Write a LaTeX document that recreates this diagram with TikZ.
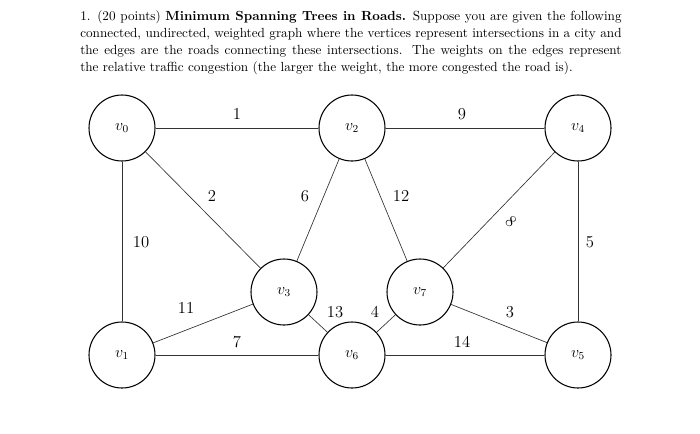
\documentclass[tikz,border=0pt]{standalone}
\begin{document}
\begin{tikzpicture}[x=0.75pt,y=-0.75pt,
  vtx/.style={draw,circle,line width=0.8pt,minimum size=49.5pt,inner sep=0pt,font=\fontsize{12}{14}\selectfont},
  edge/.style={line width=0.5pt,draw=black!80},
  wl/.style={font=\fontsize{12.5}{14}\selectfont}]
\useasboundingbox (0,0) rectangle (700,433);
\node[anchor=north west,inner sep=0pt] (txt) at (80,10) {\parbox{406pt}{\fontsize{9.9}{12.75}\selectfont
1. (20 points) \textbf{Minimum Spanning Trees in Roads.} Suppose you are given the following\linebreak
connected, undirected, weighted graph where the vertices represent intersections in a city and\linebreak
the edges are the roads connecting these intersections. The weights on the edges represent\linebreak
the relative traffic congestion (the larger the weight, the more congested the road is).}};
\node[vtx] (v0) at (122,128) {$v_0$};
\node[vtx] (v2) at (352,128) {$v_2$};
\node[vtx] (v4) at (578,128) {$v_4$};
\node[vtx] (v3) at (284,292) {$v_3$};
\node[vtx] (v7) at (420,292) {$v_7$};
\node[vtx] (v1) at (122,355) {$v_1$};
\node[vtx] (v6) at (352,355) {$v_6$};
\node[vtx] (v5) at (578,355) {$v_5$};
\draw[edge] (v0)--(v2); \draw[edge] (v2)--(v4);
\draw[edge] (v0)--(v1); \draw[edge] (v0)--(v3);
\draw[edge] (v2)--(v3); \draw[edge] (v2)--(v7);
\draw[edge] (v4)--(v7); \draw[edge] (v4)--(v5);
\draw[edge] (v3)--(v1); \draw[edge] (v3)--(v6);
\draw[edge] (v7)--(v6); \draw[edge] (v7)--(v5);
\draw[edge] (v1)--(v6); \draw[edge] (v6)--(v5);
\node[wl] (w1) at (237,114) {1};
\node[wl] (w9) at (462,114) {9};
\node[wl] (w10) at (141,242) {10};
\node[wl] (w2) at (212,196) {2};
\node[wl] (w6) at (305,196) {6};
\node[wl] (w12) at (401,196) {12};
\node[wl,rotate=-45] (w8) at (511,222) {8};
\node[wl] (w5) at (590,242) {5};
\node[wl] (w11) at (186,308) {11};
\node[wl] (w13) at (335,312) {13};
\node[wl] (w4) at (375,312) {4};
\node[wl] (w3) at (510,312) {3};
\node[wl] (w7) at (237,342) {7};
\node[wl] (w14) at (462,342) {14};
\end{tikzpicture}
\end{document}
